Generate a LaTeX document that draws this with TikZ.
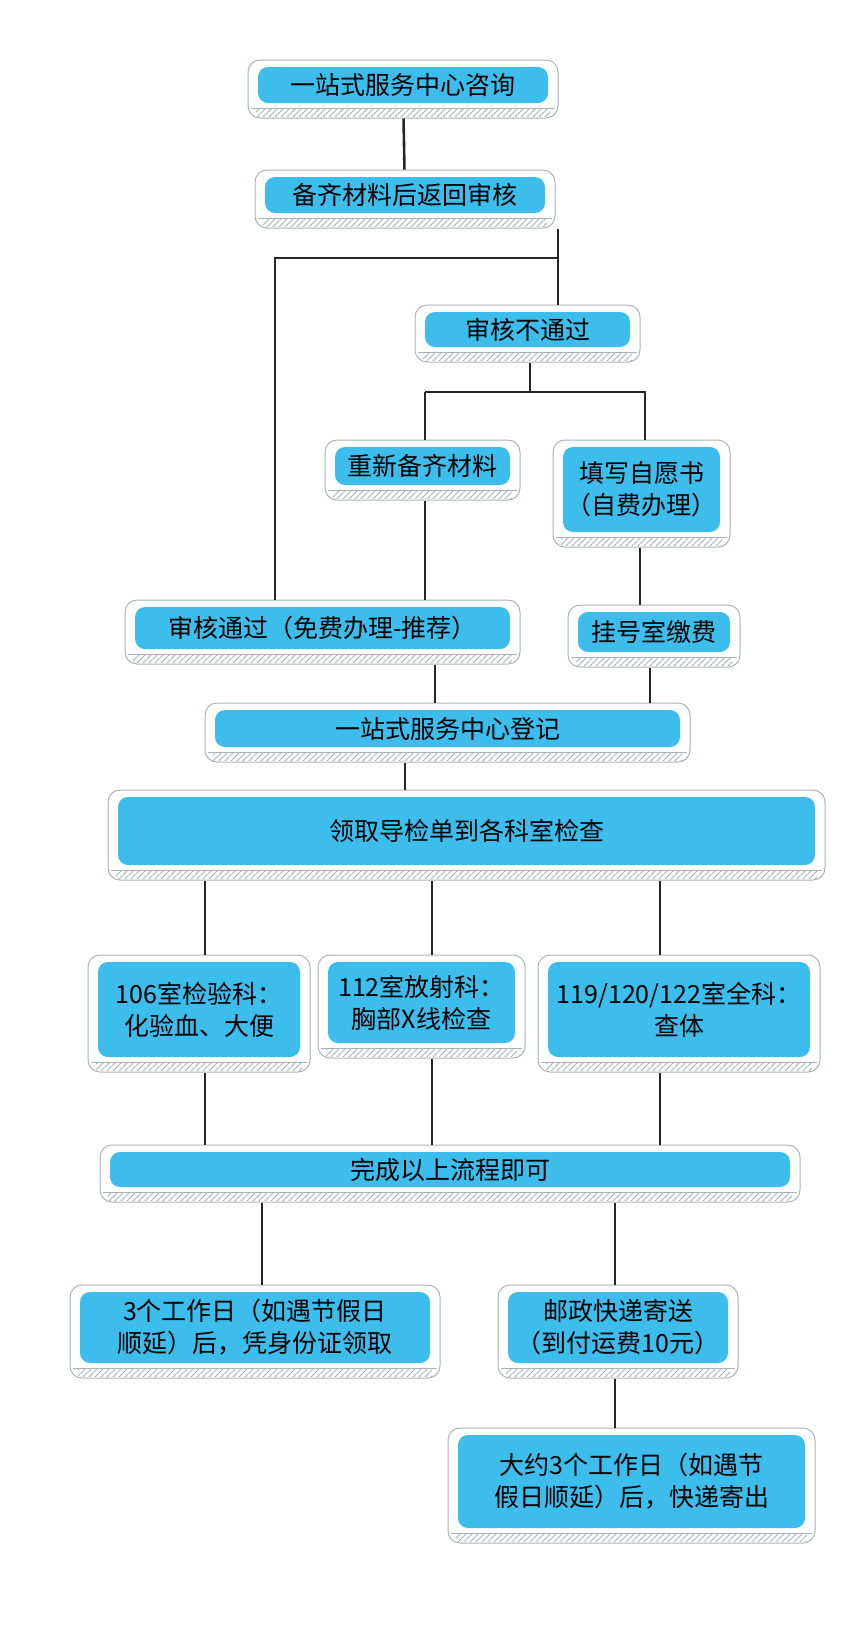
\documentclass[tikz,border=0pt]{standalone}
\usepackage{fontspec}
\newfontfamily\cjk{Noto Sans CJK SC}
\usetikzlibrary{patterns}
\definecolor{boxblue}{HTML}{3CBDEC}
\definecolor{rimgray}{HTML}{A8B4B8}
\tikzset{
 outerbox/.style={draw=rimgray,line width=0.5pt,fill=white,rounded corners=6pt,inner sep=0pt},
 innerbox/.style={fill=boxblue,rounded corners=5pt,inner sep=0pt,align=center,font=\cjk\fontsize{12.5}{16}\selectfont},
 link/.style={line width=1.3pt,draw=black!85}
}
\newcommand{\bx}[6]{%
 \node[outerbox,minimum width={(#4-#2)*0.5pt},minimum height={(#5-#3)*0.5pt}] (#1) at ({(#2+#4)/2},{(#3+#5)/2}) {};
 \fill[pattern=north east lines,pattern color=rimgray] (#2+8,#5-9) rectangle (#4-8,#5-2);
 \draw[rimgray,line width=0.4pt] (#2+3,#5-10) -- (#4-3,#5-10);
 \node[innerbox,minimum width={(#4-#2-20)*0.5pt},minimum height={(#5-#3-22)*0.5pt}] (#1i) at ({(#2+#4)/2},{(#3+#5)/2-4}) {#6};
}
\begin{document}
\begin{tikzpicture}[x=0.5pt,y=-0.5pt]
\useasboundingbox (0,0) rectangle (864,1640);
\bx{b1}{248}{60}{558}{118}{一站式服务中心咨询}
\bx{b2}{255}{170}{555}{228}{备齐材料后返回审核}
\bx{b3}{415}{305}{640}{362}{审核不通过}
\bx{b4}{325}{440}{520}{500}{重新备齐材料}
\bx{b5}{553}{440}{730}{547}{填写自愿书\\（自费办理）}
\bx{b6}{125}{600}{520}{664}{审核通过（免费办理-推荐）}
\bx{b7}{568}{605}{740}{667}{挂号室缴费}
\bx{b8}{205}{703}{690}{762}{一站式服务中心登记}
\bx{b9}{108}{790}{825}{880}{领取导检单到各科室检查}
\bx{c1}{88}{955}{310}{1072}{106室检验科：\\化验血、大便}
\bx{c2}{318}{955}{525}{1058}{112室放射科：\\胸部X线检查}
\bx{c3}{538}{955}{820}{1072}{119/120/122室全科：\\查体}
\bx{b10}{100}{1145}{800}{1202}{完成以上流程即可}
\bx{d1}{70}{1285}{440}{1378}{3个工作日（如遇节假日\\顺延）后，凭身份证领取}
\bx{d2}{498}{1285}{738}{1378}{邮政快递寄送\\（到付运费10元）}
\bx{d3}{448}{1428}{815}{1543}{大约3个工作日（如遇节\\假日顺延）后，快递寄出}
\coordinate (j1) at (275,258);
\coordinate (j2) at (558,258);
\coordinate (j3) at (530,392);
\coordinate (j4) at (425,392);
\coordinate (j5) at (645,392);
\foreach \n/\v in {xa/640,xb/435,xc/650,xd/405,xe/205,xf/432,xg/660,xh/262,xi/615}
  \coordinate (\n) at (\v,0);
\draw[link] (b1) -- (b2);
\draw[link] (b2.south -| j2) -- (j2) -- (j1) -- (b6.north -| j1);
\draw[link] (j2) -- (b3.north -| j2);
\draw[link] (b3.south -| j3) -- (j3);
\draw[link] (j4) -- (j5) -- (b5.north -| j5);
\draw[link] (b4.south -| j4) -- (b6.north -| j4);
\draw[link] (j4) -- (b4.north -| j4);
\draw[link] (b5.south -| xa) -- (b7.north -| xa);
\draw[link] (b6.south -| xb) -- (b8.north -| xb);
\draw[link] (b7.south -| xc) -- (b8.north -| xc);
\draw[link] (b8.south -| xd) -- (b9.north -| xd);
\draw[link] (b9.south -| xe) -- (c1.north -| xe);
\draw[link] (b9.south -| xf) -- (c2.north -| xf);
\draw[link] (b9.south -| xg) -- (c3.north -| xg);
\draw[link] (c1.south -| xe) -- (b10.north -| xe);
\draw[link] (c2.south -| xf) -- (b10.north -| xf);
\draw[link] (c3.south -| xg) -- (b10.north -| xg);
\draw[link] (b10.south -| xh) -- (d1.north -| xh);
\draw[link] (b10.south -| xi) -- (d2.north -| xi);
\draw[link] (d2.south -| xi) -- (d3.north -| xi);
\end{tikzpicture}
\end{document}
